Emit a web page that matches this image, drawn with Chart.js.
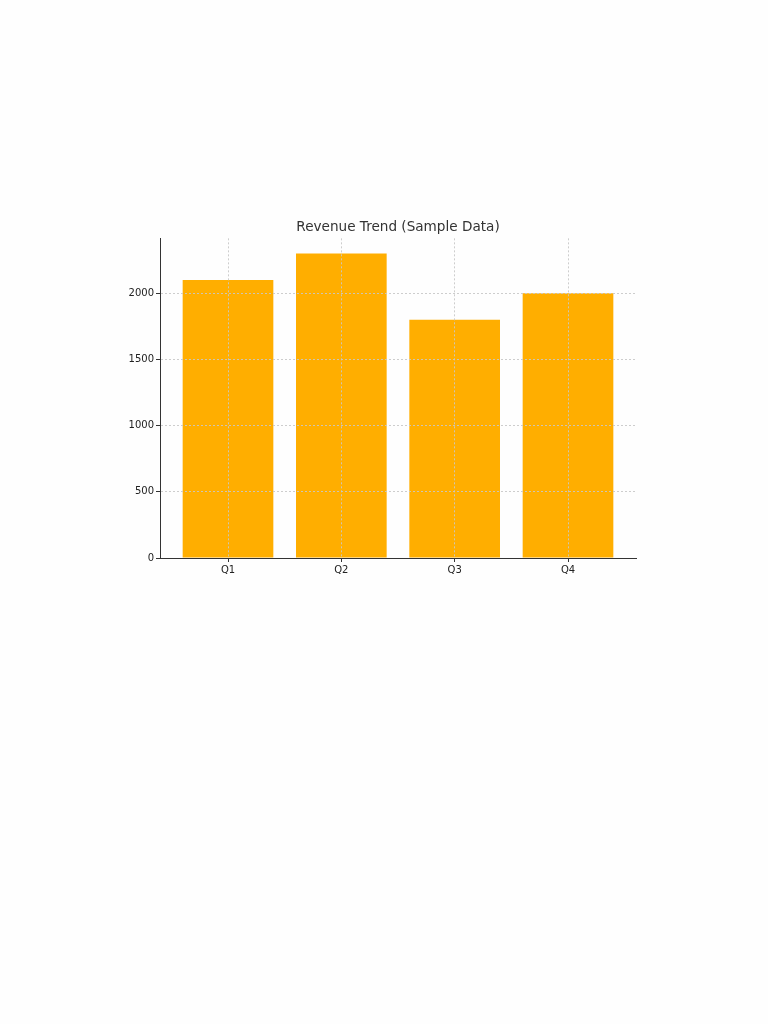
<!DOCTYPE html>
<html>
<head>
<meta charset="utf-8">
<script src="https://cdn.jsdelivr.net/npm/chart.js@4/dist/chart.umd.min.js"></script>
<style>
    body { margin: 0; background: #fefefe; }
    #wrap { position: absolute; left: 100px; top: 210px; width: 556px; height: 380px; }
</style>
</head>
<body>
<div id="wrap"><canvas id="revenueCht"></canvas></div>
<script>
// data
const quarters = ['Q1', 'Q2', 'Q3', 'Q4'];
const revenue = [2100, 2300, 1800, 2000];
const yTicks = [0, 500, 1000, 1500, 2000];

const points = revenue.map(function(v, i) {
    return { x: i, y: v };
});

const gridColor = 'rgba(200,200,200,0.9)';
const axisColor = '#333';
const tickFont = { family: 'DejaVu Sans', size: 10 };

var ctx = document.getElementById('revenueCht');
var revenueChart = new Chart(ctx, {
    type: 'bar',
    data: {
        datasets: [{
            label: 'Revenue',
            data: points,
            backgroundColor: 'rgb(255,174,0)',
            borderWidth: 0,
            barPercentage: 0.8,
            categoryPercentage: 1.0
        }]
    },
    options: {
        responsive: true,
        maintainAspectRatio: false,
        animation: false,
        layout: { padding: { left: 0, right: 20, top: 0, bottom: 0 } },
        plugins: {
            legend: { display: false },
            tooltip: { enabled: false },
            title: {
                display: true,
                fullSize: false,
                text: 'Revenue Trend (Sample Data)',
                color: '#333',
                font: { family: 'DejaVu Sans', size: 13.6, weight: 'normal' },
                padding: { top: 9, bottom: 3 }
            }
        },
        scales: {
            x: {
                type: 'linear',
                position: 'bottom',
                offset: false,
                min: -0.6,
                max: 3.6,
                afterBuildTicks: function(axis) {
                    axis.ticks = quarters.map(function(q, i) { return { value: i }; });
                },
                afterFit: function(axis) { axis.height = 32; },
                ticks: {
                    color: '#222',
                    font: tickFont,
                    padding: 2,
                    maxRotation: 0,
                    callback: function(v) { return quarters[v]; }
                },
                grid: {
                    offset: false,
                    color: gridColor,
                    tickColor: axisColor,
                    tickLength: 4,
                    z: 1
                },
                border: { display: true, color: axisColor, width: 1, dash: [2, 2], z: 2 }
            },
            y: {
                position: 'left',
                min: 0,
                max: 2415,
                afterBuildTicks: function(axis) {
                    axis.ticks = yTicks.map(function(v) { return { value: v }; });
                },
                afterFit: function(axis) { axis.width = 60; },
                ticks: {
                    color: '#222',
                    font: tickFont,
                    padding: 2,
                    callback: function(v) { return String(v); }
                },
                grid: {
                    color: gridColor,
                    tickColor: axisColor,
                    tickLength: 4,
                    z: 1
                },
                border: { display: true, color: axisColor, width: 1, dash: [2, 2], z: 2 }
            }
        }
    }
});
</script>
</body>
</html>
